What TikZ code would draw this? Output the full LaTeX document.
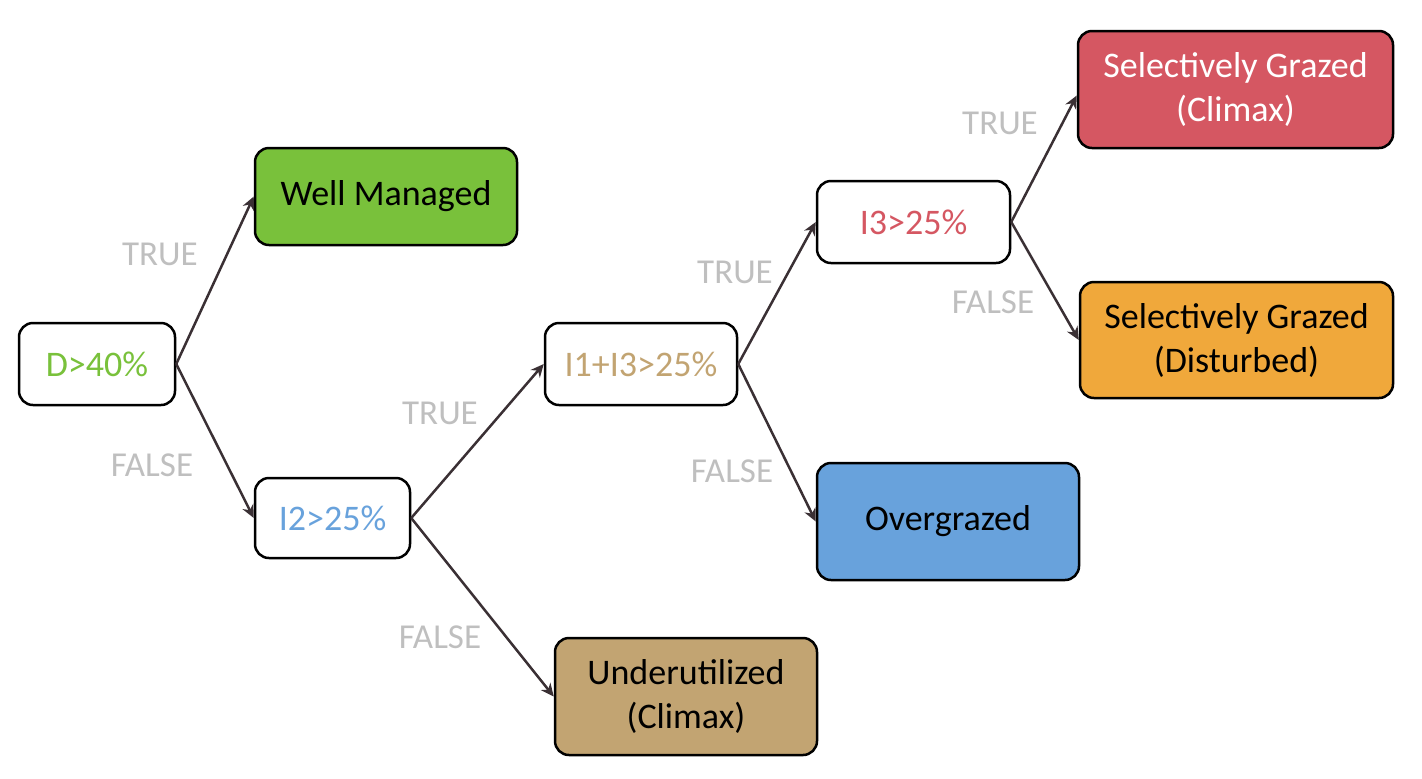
\documentclass[tikz,border=0pt]{standalone}
\usepackage{fontspec}
\setmainfont{Carlito}
\usetikzlibrary{arrows.meta}
\definecolor{cgreen}{HTML}{79C13B}
\definecolor{cblue}{HTML}{68A2DC}
\definecolor{ctan}{HTML}{C2A472}
\definecolor{cred}{HTML}{D55762}
\definecolor{corange}{HTML}{F0A83B}
\definecolor{clabel}{HTML}{BFBFBF}
\definecolor{carrow}{HTML}{3A3034}
\tikzset{
  box/.style={draw=black, line width=1.25pt, rounded corners=7pt, inner sep=0pt, align=center,
    font=\fontsize{18}{22}\selectfont},
  lbl/.style={text=clabel, font=\fontsize{17.5}{20}\selectfont, inner sep=0pt},
  conn/.style={draw=carrow, line width=1.25pt, -{Stealth[length=6.5pt,width=6pt]}}
}
\begin{document}
\begin{tikzpicture}[x=0.5pt,y=-0.5pt]
\useasboundingbox (0,0) rectangle (1422,778);
\node[box, fill=white, text=cgreen, minimum width=78pt, minimum height=41pt] (d) at (97,364) {D>40\%};
\node[box, fill=cgreen, minimum width=131pt, minimum height=48.5pt] (wm) at (386,196.5) {Well Managed};
\node[box, fill=white, text=cblue, minimum width=77.5pt, minimum height=40pt] (i2) at (332.5,518) {I2>25\%};
\node[box, fill=white, text=ctan, minimum width=96pt, minimum height=41pt] (i13) at (641,364) {I1+I3>25\%};
\node[box, fill=ctan, minimum width=131pt, minimum height=58.5pt] (un) at (686,696.5) {Underutilized\\(Climax)};
\node[box, fill=white, text=cred, minimum width=96.5pt, minimum height=41pt] (i3) at (913.5,222) {I3>25\%};
\node[box, fill=cblue, minimum width=131pt, minimum height=58.5pt] (ov) at (948,521.5) {Overgrazed};
\node[box, fill=cred, text=white, minimum width=157.5pt, minimum height=58.5pt] (sgc) at (1235.5,89.5) {Selectively Grazed\\(Climax)};
\node[box, fill=corange, minimum width=156.5pt, minimum height=58pt] (sgd) at (1236.5,340) {Selectively Grazed\\(Disturbed)};

\draw[conn] (d.east) -- (wm.west);
\draw[conn] (d.east) -- (i2.west);
\draw[conn] (i2.east) -- (i13.west);
\draw[conn] (i2.east) -- (un.west);
\draw[conn] (i13.east) -- (i3.west);
\draw[conn] (i13.east) -- (ov.west);
\draw[conn] (i3.east) -- ([yshift=-3pt]sgc.west);
\draw[conn] (i3.east) -- (sgd.west);

\node[lbl] (t1) at (160,254) {TRUE};
\node[lbl] (f1) at (152,465) {FALSE};
\node[lbl] (t2) at (440,413) {TRUE};
\node[lbl] (f2) at (440,637) {FALSE};
\node[lbl] (t3) at (735,272) {TRUE};
\node[lbl] (f3) at (732,471) {FALSE};
\node[lbl] (t4) at (1000,123) {TRUE};
\node[lbl] (f4) at (993,302) {FALSE};
\end{tikzpicture}
\end{document}
